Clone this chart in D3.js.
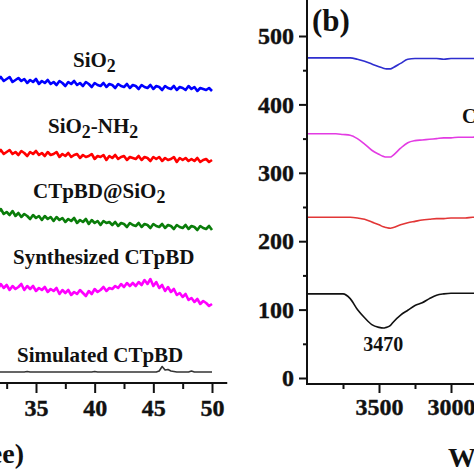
<!DOCTYPE html>
<html>
<head>
<meta charset="utf-8">
<script src="https://cdn.jsdelivr.net/npm/d3@7"></script>
<style>
    body { margin: 0; background: #fff; }
    svg text { font-family: "Liberation Serif", "Times New Roman", serif; font-weight: bold; fill: #111; }
    .tick text { font-size: 24px; font-weight: bold; }
</style>
</head>
<body>
<div id="chart"></div>
<script>

/* * * * * * * * * * * * * *
*   (a) XRD patterns       *
* * * * * * * * * * * * * */

// 2theta sampling (degree)
const twoTheta = [31.5, 31.75, 32, 32.25, 32.5, 32.75, 33, 33.25, 33.5, 33.75, 34, 34.25,
    34.5, 34.75, 35, 35.25, 35.5, 35.75, 36, 36.25, 36.5, 36.75, 37, 37.25, 37.5, 37.75,
    38, 38.25, 38.5, 38.75, 39, 39.25, 39.5, 39.75, 40, 40.25, 40.5, 40.75, 41, 41.25,
    41.5, 41.75, 42, 42.25, 42.5, 42.75, 43, 43.25, 43.5, 43.75, 44, 44.25, 44.5, 44.75,
    45, 45.25, 45.5, 45.75, 46, 46.25, 46.5, 46.75, 47, 47.25, 47.5, 47.75, 48, 48.25,
    48.5, 48.75, 49, 49.25, 49.5, 49.75, 50];

// intensities (a.u., already stacked)
const xrdSiO2 = [305, 303, 306, 302, 304, 306, 301, 303, 305, 302, 304, 300,
    303, 301, 304, 299, 302, 300, 303, 299, 301, 298, 302, 300, 297, 301, 299, 302,
    298, 300, 297, 301, 299, 296, 300, 298, 297, 300, 296, 299, 298, 295, 299, 297,
    296, 299, 295, 298, 297, 294, 298, 296, 295, 298, 294, 297, 296, 293, 297, 295,
    294, 297, 293, 296, 295, 293, 297, 294, 296, 292, 295, 294, 293, 295, 292];
const xrdSiO2NH2 = [232, 230, 233, 229, 231, 233, 229, 231, 228, 232, 230, 227,
    231, 229, 232, 228, 230, 227, 231, 228, 229, 231, 226, 229, 227, 230, 226, 228,
    229, 225, 228, 226, 227, 229, 224, 227, 226, 228, 223, 227, 225, 228, 224, 226,
    227, 223, 226, 225, 224, 227, 223, 226, 225, 222, 226, 224, 226, 222, 225, 223,
    224, 226, 221, 225, 223, 225, 222, 224, 222, 225, 221, 223, 224, 221, 223];
const xrdCTpBDSiO2 = [173, 170, 174, 169, 171, 168, 172, 167, 170, 166, 169, 167,
    164, 168, 165, 167, 163, 167, 164, 166, 162, 166, 163, 165, 161, 164, 162, 165,
    160, 163, 161, 164, 159, 163, 160, 162, 158, 162, 160, 161, 158, 161, 157, 160,
    159, 156, 160, 158, 157, 160, 156, 159, 158, 155, 159, 157, 156, 159, 155, 158,
    157, 154, 158, 156, 155, 158, 154, 157, 156, 153, 157, 155, 154, 157, 153];
const xrdSynthesized = [97, 94, 99, 95, 98, 93, 97, 94, 96, 99, 93, 97,
    94, 97, 92, 95, 93, 96, 91, 94, 92, 95, 89, 93, 90, 93, 88, 91,
    89, 93, 90, 87, 92, 89, 94, 91, 93, 96, 92, 95, 94, 97, 95, 99,
    96, 100, 97, 100, 97, 101, 98, 103, 99, 104, 97, 101, 95, 98, 92, 96,
    91, 94, 88, 90, 86, 89, 83, 85, 81, 84, 79, 82, 80, 77, 79];
const xrdSimulated = [11, 11, 11, 11, 11, 11, 11, 11, 11, 11, 11, 11.5,
    11, 11, 11, 11, 11, 11, 11, 11, 11, 11, 11, 11, 11, 11, 11, 11,
    11, 11, 11, 11, 11, 11, 11.5, 11, 11, 11, 11, 11, 11, 11, 11, 11,
    11, 11, 11, 11, 11, 11, 11, 11, 11, 11, 11, 11, 12, 16.5, 13, 13.5,
    12, 11.5, 11, 11, 11, 11, 11, 12, 11, 11, 11, 11, 11, 11, 11];

const xrdMajorTicks = [30, 35, 40, 45, 50];
const xrdMinorTicks = [32.5, 37.5, 42.5, 47.5];

/* * * * * * * * * * * * * *
*   (b) FT-IR spectra      *
* * * * * * * * * * * * * */

const wavenumber = [4000, 3900, 3800, 3750, 3700, 3650, 3600, 3550, 3500, 3470, 3450, 3420,
    3400, 3350, 3300, 3250, 3200, 3150, 3100, 3050, 3000, 2950, 2900, 2850, 2800, 2750, 2700];

const irSiO2 = [468, 468, 468, 468, 468, 466, 463, 459, 455, 453, 452, 452,
    454, 460, 466, 467, 467, 467, 467, 466, 467, 467, 467, 467, 467, 467, 467];
const irCTpBDSiO2 = [357, 357, 357, 356, 355, 350, 342, 333, 327, 324, 323, 323,
    326, 336, 344, 347, 348, 349, 350, 351, 351, 352, 352, 352, 353, 353, 353];
const irSiO2NH2 = [235, 235, 235, 235, 235, 234, 232, 228, 224, 221, 220, 219,
    220, 224, 227, 229, 231, 232, 233, 233, 234, 234, 234, 235, 235, 235, 235];
const irCTpBD = [123, 123, 123, 123, 116, 100, 88, 78, 74, 73, 74, 77,
    82, 92, 99, 106, 110, 116, 121, 123, 124, 124, 124, 124, 124, 124, 124];

const irYTicks = [0, 100, 200, 300, 400, 500];
const irYMinorTicks = [50, 150, 250, 350, 450];
const irXTicks = [3500, 3000];
const irXMinorTicks = [3750, 3250, 2750];


// drawing area
let svg = d3.select("#chart").append("svg")
    .attr("width", 474)
    .attr("height", 474);

/* ---------- panel (a) ---------- */

let xL = d3.scaleLinear().domain([35, 50]).range([36, 212]);
let yL = d3.scaleLinear().domain([0, 383]).range([383, 0]);

let xrdSeries = [
    {values: xrdSiO2, color: '#0000ff'},
    {values: xrdSiO2NH2, color: '#ff0000'},
    {values: xrdCTpBDSiO2, color: '#0a7d0a'},
    {values: xrdSynthesized, color: '#ff00ff'},
    {values: xrdSimulated, color: '#333333', thin: true}
];

let xrdLine = d3.line()
    .x((d, i) => xL(twoTheta[i]))
    .y(d => yL(d));

svg.append("g").selectAll("path")
    .data(xrdSeries)
    .enter()
    .append("path")
    .attr("d", d => xrdLine(d.values))
    .attr("fill", "none")
    .attr("stroke", d => d.color)
    .attr("stroke-width", d => d.thin ? 1.6 : 2.6)
    .attr("stroke-linejoin", "round");

// x axis (a)
let axisA = svg.append("g").attr("transform", "translate(0,383)");
axisA.append("g")
    .call(d3.axisBottom(xL).tickValues(xrdMajorTicks).tickSize(10).tickPadding(6).tickFormat(d3.format("d")));
axisA.append("g")
    .call(d3.axisBottom(xL).tickValues(xrdMinorTicks).tickSize(6).tickFormat(""));
axisA.selectAll(".domain").remove();
axisA.append("line")
    .attr("x1", xL(28)).attr("x2", xL(51.3))
    .attr("stroke", "#111").attr("stroke-width", 2);

// curve labels (a)
function addLabel(parts, x, y, size) {
    let t = svg.append("text")
        .attr("x", x).attr("y", y)
        .attr("font-size", size + "px");
    parts.forEach(p => {
        t.append("tspan")
            .attr("dy", p.sub ? 5 : (p.after ? -5 : 0))
            .attr("font-size", p.sub ? (size * 0.85) + "px" : null)
            .text(p.t);
    });
    return t;
}
addLabel([{t: "SiO"}, {t: "2", sub: true}], 73, 67, 21);
addLabel([{t: "SiO"}, {t: "2", sub: true}, {t: "-NH", after: true}, {t: "2", sub: true}], 48, 133, 21);
addLabel([{t: "CTpBD@SiO"}, {t: "2", sub: true}], 33, 198, 21);
addLabel([{t: "Synthesized CTpBD"}], 13, 264, 21);
addLabel([{t: "Simulated CTpBD"}], 17, 362, 21);

svg.append("text")
    .attr("x", 24).attr("y", 463)
    .attr("text-anchor", "end")
    .attr("font-size", "28px")
    .text("2θ (degree)");

/* ---------- panel (b) ---------- */

let xR = d3.scaleLinear().domain([4000, 3000]).range([307, 451]);
let yR = d3.scaleLinear().domain([0, 500]).range([378, 36]);

let irSeries = [
    {values: irSiO2, color: '#2e2ecf'},
    {values: irCTpBDSiO2, color: '#e33be3'},
    {values: irSiO2NH2, color: '#e23636'},
    {values: irCTpBD, color: '#111111'}
];

let irLine = d3.line()
    .x((d, i) => xR(wavenumber[i]))
    .y(d => yR(d))
    .curve(d3.curveMonotoneX);

svg.append("g").selectAll("path")
    .data(irSeries)
    .enter()
    .append("path")
    .attr("d", d => irLine(d.values))
    .attr("fill", "none")
    .attr("stroke", d => d.color)
    .attr("stroke-width", 1.6);

// y axis (b)
let axisBY = svg.append("g").attr("transform", "translate(307,0)");
axisBY.append("g")
    .call(d3.axisLeft(yR).tickValues(irYTicks).tickSize(8).tickPadding(5));
axisBY.append("g")
    .call(d3.axisLeft(yR).tickValues(irYMinorTicks).tickSize(4).tickFormat(""));
axisBY.selectAll(".domain").remove();
axisBY.append("line")
    .attr("y1", 384).attr("y2", -2)
    .attr("stroke", "#111").attr("stroke-width", 2);

// x axis (b)
let axisBX = svg.append("g").attr("transform", "translate(0,384)");
axisBX.append("g")
    .call(d3.axisBottom(xR).tickValues(irXTicks).tickSize(9).tickPadding(5).tickFormat(d3.format("d")));
axisBX.append("g")
    .call(d3.axisBottom(xR).tickValues(irXMinorTicks).tickSize(5).tickFormat(""));
axisBX.selectAll(".domain").remove();
axisBX.append("line")
    .attr("x1", 306).attr("x2", 480)
    .attr("stroke", "#111").attr("stroke-width", 2);

// shared axis styling: drop d3's default font attributes so the css applies
svg.selectAll(".tick").each(function() { d3.select(this.parentNode).attr("font-size", null).attr("font-family", null); });
svg.selectAll(".tick line").attr("stroke", "#111").attr("stroke-width", 2);
svg.selectAll(".tick text")
    .attr("fill", "#111")
    .attr("stroke", "#111")
    .attr("stroke-width", 0.4)
    .attr("font-size", "24px")
    .attr("font-weight", "bold");

// annotations (b)
svg.append("text")
    .attr("x", xR(3470)).attr("y", yR(d3.min(irCTpBD)) + 23)
    .attr("text-anchor", "middle")
    .attr("font-size", "20px")
    .text("3470");

svg.append("text")
    .attr("x", 312).attr("y", 31)
    .attr("font-size", "31px")
    .text("(b)");

addLabel([{t: "CTpBD@SiO"}, {t: "2", sub: true}], 462, 123, 20);

svg.append("text")
    .attr("x", 448).attr("y", 467)
    .attr("font-size", "28px")
    .text("Wavenumber (cm")
    .append("tspan").attr("dy", -10).attr("font-size", "18px").text("-1");

</script>
</body>
</html>
